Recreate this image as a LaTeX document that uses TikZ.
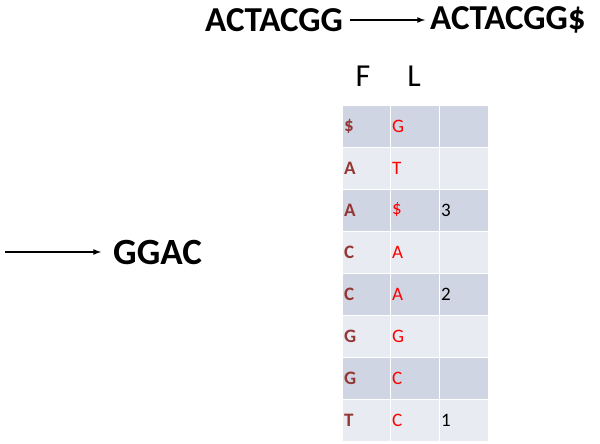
\documentclass[tikz,border=0pt]{standalone}
\usepackage{fontspec}
\setmainfont{Carlito}
\begin{document}
\begin{tikzpicture}[x=1pt,y=-1pt,
  big/.style={font=\fontsize{35}{37}\selectfont\bfseries,inner sep=0},
  hd/.style={font=\fontsize{32}{34}\selectfont,inner sep=0},
  fc/.style={anchor=west,font=\fontsize{19}{21}\selectfont\bfseries,text=fcol,inner sep=0},
  lc/.style={anchor=west,font=\fontsize{19}{21}\selectfont,text=red,inner sep=0},
  nc/.style={anchor=west,font=\fontsize{19}{21}\selectfont,inner sep=0},
  arr/.style={-latex,line width=1.6pt}]
\definecolor{dk}{HTML}{CFD5E3}
\definecolor{lt}{HTML}{E8EBF2}
\definecolor{fcol}{HTML}{953735}
\useasboundingbox (0,0) rectangle (600,444);
\node[big,anchor=west] (s1) at (205,20) {ACTACGG};
\node[big,anchor=west] (s2) at (430,20) {ACTACGG\$};
\draw[arr] ([xshift=7pt]s1.east) -- ([xshift=-5pt]s2.west);
\node[hd] (F) at (363,76) {F};
\node[hd] (L) at (414,76) {L};
\node[big,anchor=west,font=\fontsize{37}{39}\selectfont\bfseries] (g) at (113,252) {GGAC};
\coordinate (a0) at (5,252);
\draw[arr] (a0) -- ([xshift=-12pt]g.west);
\foreach \i/\f/\l/\n in {0/\$/G/,1/A/T/,2/A/\$/3,3/C/A/,4/C/A/2,5/G/G/,6/G/C/,7/T/C/1}{
  \pgfmathsetmacro\yt{105+42*\i}
  \pgfmathtruncatemacro\ev{mod(\i,2)}
  \ifnum\ev=0 \def\cc{dk}\else\def\cc{lt}\fi
  \fill[\cc,draw=white,line width=1pt] (342,\yt) rectangle (390,\yt+42);
  \fill[\cc,draw=white,line width=1pt] (390,\yt) rectangle (439,\yt+42);
  \fill[\cc,draw=white,line width=1pt] (439,\yt) rectangle (488,\yt+42);
  \node[fc] (f\i) at (344,\yt+21) {\f};
  \node[lc] (l\i) at (392,\yt+21) {\l};
  \node[nc] (n\i) at (441,\yt+21) {\n};
}
\end{tikzpicture}
\end{document}
